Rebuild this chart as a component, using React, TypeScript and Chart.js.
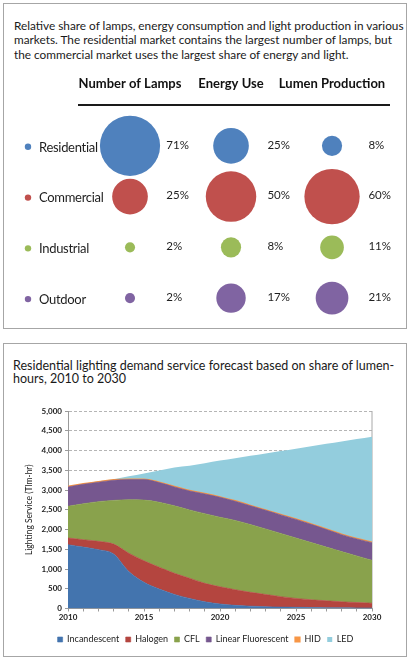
import React, { useEffect, useRef } from "react";
import { Chart, registerables } from "chart.js";

Chart.register(...registerables);

// ---------- Top panel data ----------
const markets = ["Residential", "Commercial", "Industrial", "Outdoor"];
const metrics = ["Number of Lamps", "Energy Use", "Lumen Production"];
const lampShare = [71, 25, 2, 2];
const energyShare = [25, 50, 8, 17];
const lumenShare = [8, 60, 11, 21];
const marketColors = ["#4F81BD", "#C0504D", "#9BBB59", "#8064A2"];

const introLines = [
  "Relative share of lamps, energy consumption and light production in various",
  "markets. The residential market contains the largest number of lamps, but",
  "the commercial market uses the largest share of energy and light.",
];

// ---------- Bottom panel data ----------
const forecastTitle = [
  "Residential lighting demand service forecast based on share of lumen-",
  "hours, 2010 to 2030",
];
const years = [2010, 2011, 2012, 2013, 2014, 2015, 2016, 2017, 2018, 2019, 2020, 2021, 2022, 2023, 2024, 2025, 2026, 2027, 2028, 2029, 2030];
const incandescent = [1615, 1555, 1490, 1380, 935, 663, 493, 357, 255, 170, 115, 80, 60, 45, 35, 30, 25, 20, 18, 15, 12];
const halogen = [170, 187, 210, 250, 465, 544, 552, 535, 510, 467, 435, 395, 350, 310, 265, 225, 195, 175, 152, 135, 123];
const cfl = [805, 908, 1005, 1107, 1354, 1538, 1645, 1708, 1730, 1763, 1760, 1755, 1715, 1660, 1600, 1530, 1450, 1360, 1270, 1180, 1085];
const linearFluorescent = [487, 495, 491, 510, 510, 519, 497, 477, 480, 500, 505, 485, 475, 470, 470, 470, 460, 445, 430, 430, 445];
const hid = [15, 15, 15, 15, 15, 15, 15, 15, 15, 15, 15, 15, 15, 15, 15, 15, 15, 15, 15, 15, 15];
const led = [0, 0, 9, 13, 70, 141, 292, 478, 625, 765, 915, 1075, 1250, 1425, 1600, 1775, 1965, 2155, 2345, 2515, 2670];
const seriesNames = ["Incandescent", "Halogen", "CFL", "Linear Fluorescent", "HID", "LED"];
const seriesColors = ["#4374AE", "#B4453F", "#89A24C", "#76578F", "#F79646", "#93CDDD"];
const yAxisTitle = "Lighting Service (Tlm-hr)";

const FONT = "Lato, 'Noto Sans', sans-serif";

function BubblePanel() {
  const ref = useRef<HTMLCanvasElement>(null);
  useEffect(() => {
    const shares = [lampShare, energyShare, lumenShare];
    const labelPlugin = {
      id: "rowLabels",
      afterDatasetsDraw(chart: any) {
        const { ctx, scales } = chart;
        const x = scales.x;
        const y = scales.y;
        ctx.save();
        ctx.textAlign = "left";
        ctx.textBaseline = "middle";
        markets.forEach((m: string, i: number) => {
          const py = y.getPixelForValue(i);
          ctx.fillStyle = marketColors[i];
          ctx.beginPath();
          ctx.arc(23, py + 1, 3.2, 0, Math.PI * 2);
          ctx.fill();
          ctx.fillStyle = "#1e1e1e";
          ctx.font = "13px " + FONT;
          (ctx as any).letterSpacing = "-0.3px";
          ctx.fillText(m, 34, py + 1.5);
          (ctx as any).letterSpacing = "0px";
          ctx.font = "11.5px " + FONT;
          shares.forEach((arr, j) => {
            ctx.fillText(arr[i] + "%", x.getPixelForValue(j + 0.36), py - 1);
          });
        });
        ctx.restore();
      },
    };
    const chart = new Chart(ref.current as HTMLCanvasElement, {
      type: "bubble",
      data: {
        datasets: markets.map((m, i) => ({
          label: m,
          data: shares.map((arr, j) => ({ x: j, y: i, v: arr[i] })) as any,
          backgroundColor: marketColors[i],
          borderWidth: 0,
          clip: false as any,
          radius: (c: any) => 3.57 * Math.sqrt(c.raw ? c.raw.v : 0),
          hoverRadius: 0,
        })),
      },
      options: {
        responsive: false,
        animation: false,
        events: [],
        layout: { autoPadding: false, padding: { left: 74, right: 16, top: 0, bottom: 0 } },
        plugins: { legend: { display: false }, tooltip: { enabled: false } },
        scales: {
          x: {
            type: "linear",
            position: "top",
            min: -0.505,
            max: 2.564,
            afterBuildTicks: (axis: any) => {
              axis.ticks = metrics.map((_, j) => ({ value: j }));
            },
            afterFit: (axis: any) => {
              axis.height = 43;
            },
            grid: { display: false },
            border: { display: true, color: "#1a1a1a", width: 2 },
            ticks: {
              callback: (v: any) => metrics[v as number],
              font: { family: FONT, weight: "bold", size: 13 },
              color: "#111",
              padding: 5,
              maxRotation: 0,
              autoSkip: false,
            },
          },
          y: { type: "linear", display: false, reverse: true, min: -0.804, max: 3.51 },
        },
      } as any,
      plugins: [labelPlugin],
    });
    return () => chart.destroy();
  }, []);
  return (
    <canvas
      ref={ref}
      width={400}
      height={262}
      style={{ position: "absolute", left: 5, top: 62, width: 400, height: 262 }}
    />
  );
}

function AreaPanel() {
  const ref = useRef<HTMLCanvasElement>(null);
  useEffect(() => {
    const seriesData = [incandescent, halogen, cfl, linearFluorescent, hid, led];
    const borderPlugin = {
      id: "rightBorder",
      beforeDatasetsDraw(chart: any) {
        const { ctx, chartArea } = chart;
        ctx.save();
        ctx.strokeStyle = "#a8a8a8";
        ctx.lineWidth = 1;
        ctx.beginPath();
        ctx.moveTo(chartArea.right, chartArea.top);
        ctx.lineTo(chartArea.right, chartArea.bottom);
        ctx.stroke();
        ctx.restore();
      },
    };
    const chart = new Chart(ref.current as HTMLCanvasElement, {
      type: "line",
      data: {
        labels: years,
        datasets: seriesNames.map((name, k) => ({
          label: name,
          data: seriesData[k],
          backgroundColor: seriesColors[k],
          borderColor: seriesColors[k],
          borderWidth: k === 5 ? 0 : k === 4 ? 1.2 : 0.6,
          fill: k === 0 ? "origin" : "-1",
          pointRadius: 0,
          pointHoverRadius: 0,
          cubicInterpolationMode: "monotone",
        })),
      },
      options: {
        responsive: false,
        animation: false,
        events: [],
        layout: { padding: { left: 39, right: 39, top: 16, bottom: 0 } },
        plugins: {
          tooltip: { enabled: false },
          legend: {
            position: "bottom",
            labels: {
              boxWidth: 5,
              boxHeight: 5,
              padding: 6.5,
              color: "#222",
              font: { family: FONT, size: 9 },
            },
          },
        },
        scales: {
          x: {
            grid: { drawOnChartArea: false, drawTicks: true, tickLength: 3, color: "#9a9a9a" },
            border: { color: "#9a9a9a" },
            ticks: {
              autoSkip: false,
              maxRotation: 0,
              padding: 1,
              color: "#222",
              font: { family: FONT, weight: "bold", size: 8 },
              callback: (_v: any, i: number) => (years[i] % 5 === 0 ? String(years[i]) : ""),
            },
            afterFit: (s: any) => {
              s.height = 20;
            },
          },
          y: {
            stacked: true,
            min: 0,
            max: 5000,
            ticks: {
              stepSize: 500,
              padding: 3,
              color: "#222",
              font: { family: FONT, weight: "bold", size: 8 },
            },
            grid: { color: "#b5b5b5", tickLength: 3, tickColor: "#9a9a9a" },
            border: { dash: [3, 2], color: "#9a9a9a" },
            title: {
              display: true,
              text: yAxisTitle,
              color: "#222",
              font: { family: FONT, size: 8.5 },
              padding: { top: -15, bottom: 0 },
            },
            afterFit: (s: any) => {
              s.width = 29;
            },
          },
        },
      } as any,
      plugins: [borderPlugin],
    });
    return () => chart.destroy();
  }, []);
  return (
    <canvas
      ref={ref}
      width={411}
      height={259}
      style={{ position: "absolute", left: 0, top: 395, width: 411, height: 259 }}
    />
  );
}

export default function App() {
  const panel = (top: number, height: number) => ({
    position: "absolute" as const,
    left: 3,
    top,
    width: 404,
    height,
    boxSizing: "border-box" as const,
    border: "1.5px solid #a6a6a6",
  });
  return (
    <div style={{ position: "absolute", left: 0, top: 0, width: 411, height: 662, background: "#fff", fontFamily: FONT, color: "#1a1a1a" }}>
      <div style={panel(3, 326)} />
      <div style={panel(343, 314)} />
      <div style={{ position: "absolute", left: 14, top: 19.2, fontSize: 11.8, lineHeight: "14.2px", whiteSpace: "nowrap" }}>
        {introLines.map((l, i) => (
          <div key={i}>{l}</div>
        ))}
      </div>
      <div style={{ position: "absolute", left: 13, top: 360.3, fontSize: 12.5, lineHeight: "12.7px", whiteSpace: "nowrap" }}>
        {forecastTitle.map((l, i) => (
          <div key={i}>{l}</div>
        ))}
      </div>
      <BubblePanel />
      <AreaPanel />
    </div>
  );
}
